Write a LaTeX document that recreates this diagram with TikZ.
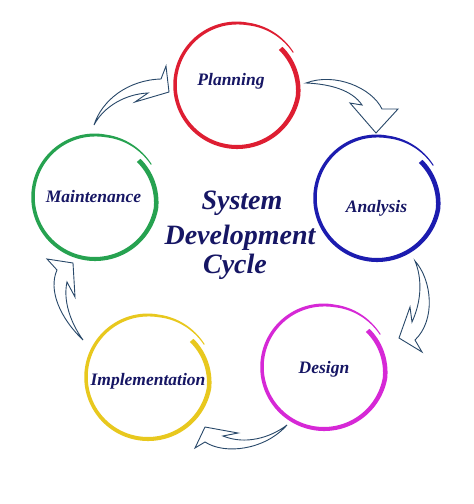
\documentclass[tikz,border=0pt]{standalone}
\usepackage{fontspec}
\setmainfont{Liberation Serif}
\definecolor{txt}{RGB}{22,22,100}
\definecolor{cred}{RGB}{222,30,50}
\definecolor{cblue}{RGB}{28,28,175}
\definecolor{cmag}{RGB}{214,40,214}
\definecolor{cyel}{RGB}{232,200,30}
\definecolor{cgreen}{RGB}{38,162,80}
\definecolor{arr}{RGB}{40,72,105}
\newcommand\brushR[1]{(#1-5*max(0,(10-\x)/50)+3*max(0,(\x-280)/50))}
\newcommand\brushW{(4.8-2.2*(\x+40)/370-1.6*max(0,(\x-270)/60))}
\newcommand\brushring[4]{%
  \fill[#4] plot[domain=-40:330,samples=180,smooth]
    ({#1+(\brushR{#3}+\brushW/2)*cos(\x)},{#2+(\brushR{#3}+\brushW/2)*sin(\x)})
    -- plot[domain=330:-40,samples=180,smooth]
    ({#1+(\brushR{#3}-\brushW/2)*cos(\x)},{#2+(\brushR{#3}-\brushW/2)*sin(\x)})
    -- cycle;}
\tikzset{
  label/.style={text=txt,font=\fontsize{17.5}{20}\selectfont\bfseries\itshape,inner sep=0pt,anchor=base},
  title/.style={text=txt,font=\fontsize{28}{32}\selectfont\bfseries\itshape,inner sep=0pt,anchor=base},
  arrowshape/.style={draw=arr,line width=0.9pt,fill=white,line join=miter}
}
\begin{document}
\begin{tikzpicture}[x=1pt,y=-1pt]
\fill[white] (0,0) rectangle (474,504);
\useasboundingbox (0,0) rectangle (474,504);
% circles
\coordinate (cplan) at (237,85);
\coordinate (canal) at (377,198);
\coordinate (cdes) at (324,367);
\coordinate (cimp) at (148,377);
\coordinate (cmain) at (95,197);
\brushring{237}{85}{62}{cred}
\brushring{377}{198}{62}{cblue}
\brushring{324}{367}{62}{cmag}
\brushring{148}{377}{62}{cyel}
\brushring{95}{197}{62}{cgreen}
% labels
\node[label] (plan) at (231,85) {Planning};
\node[label] (anal) at (376.5,212) {Analysis};
\node[label] (des) at (324,373) {Design};
\node[label] (imp) at (148,385) {Implementation};
\node[label] (main) at (93.5,202) {Maintenance};
% title
\node[title] (t1) at (242,209) {System};
\node[title] (t2) at (240,244) {Development};
\node[title] (t3) at (235,273) {Cycle};
% arrows
\draw[arrowshape] (94,125) .. controls (102,100) and (128,80) .. (161,79) -- (166,66) -- (169,92) -- (135,102) -- (148,93) .. controls (126,94) and (104,106) .. (94,125) -- cycle;
\draw[arrowshape] (306,83) .. controls (335,72) and (372,88) .. (382,109) -- (398,109) -- (376,133) -- (350,103) -- (362,105) .. controls (352,90) and (330,84) .. (306,83) -- cycle;
\draw[arrowshape] (415,261) .. controls (432,280) and (436,320) .. (415,340) -- (422,352) -- (399,338) -- (410,307) -- (412,322) .. controls (422,300) and (422,278) .. (415,261) -- cycle;
\draw[arrowshape] (287,425) .. controls (265,450) and (225,455) .. (205,442) -- (195,448) -- (205,427) -- (238,433) -- (223,436) .. controls (245,445) and (270,438) .. (287,425) -- cycle;
\draw[arrowshape] (83,340) .. controls (60,318) and (48,290) .. (57,270) -- (47,259) -- (73,263) -- (75,297) -- (67,282) .. controls (63,300) and (70,322) .. (83,340) -- cycle;
\end{tikzpicture}
\end{document}
